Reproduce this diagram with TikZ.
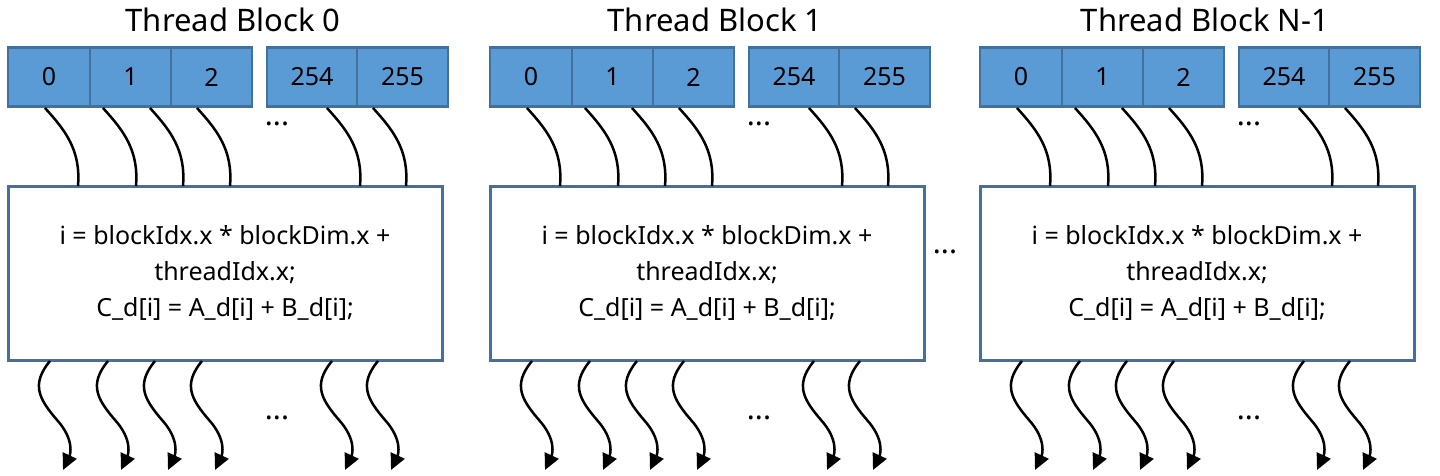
\documentclass[tikz,border=0pt]{standalone}
\usepackage{fontspec}
\setmainfont{Noto Sans}
\usetikzlibrary{arrows.meta}
\definecolor{cellfill}{HTML}{5B9BD5}
\definecolor{celledge}{HTML}{41719C}
\tikzset{
  cell/.style={draw=celledge,line width=2.5pt,fill=cellfill,minimum height=59pt,inner sep=0pt,font=\fontsize{25}{27}\selectfont},
  kbox/.style={draw=celledge,line width=3pt,fill=white,inner sep=0pt,align=center,font=\fontsize{25}{36}\selectfont},
  wire/.style={line width=2.5pt},
  title/.style={font=\fontsize{31}{33}\selectfont},
  dots/.style={font=\fontsize{30}{30}\selectfont\bfseries}
}
\begin{document}
\begin{tikzpicture}[x=1pt,y=-1pt]
\useasboundingbox (0,0) rectangle (1440,476);
\foreach \b/\o/\t in {0/0/0,1/482/1,2/972/N-1}{
  \node[title] (t\b) at (\o+233,20) {Thread Block \t};
  \node[cell,minimum width=82pt] (c\b a) at (\o+49,77) {0};
  \node[cell,minimum width=81pt] (c\b b) at (\o+130.5,77) {1};
  \node[cell,minimum width=81pt] (c\b c) at (\o+211.5,77) {2};
  \node[cell,minimum width=90pt] (c\b d) at (\o+312,77) {254};
  \node[cell,minimum width=91pt] (c\b e) at (\o+402.5,77) {255};
  \node[kbox,minimum width=434pt,minimum height=174pt] (k\b) at (\o+225,273)
    {i = blockIdx.x * blockDim.x +\\ threadIdx.x;\\ C\_d[i] = A\_d[i] + B\_d[i];};
  \node[dots] (u\b) at (\o+277,124) {...};
  \node[dots] (l\b) at (\o+277,418) {...};
  \foreach \x in {45,103,150,197,327,373}{
    \coordinate (s) at (\o+\x,108);
    \coordinate (e) at (\o+\x+33,186);
    \draw[wire] (s) .. controls (\o+\x+20,130) and (\o+\x+36,150) .. (e);
    \coordinate (bs) at (\o+\x+5,361);
    \coordinate (bt) at (\o+\x+18,470);
    \draw[wire,-{Triangle[length=16pt,width=15pt]}] (bs) .. controls (\o+\x-15,385) and (\o+\x-5,400) .. (\o+\x+12,420) .. controls (\o+\x+30,440) and (\o+\x+25,455) .. (bt);
  }
}
\node[dots] (m) at (945,252) {...};
\end{tikzpicture}
\end{document}
